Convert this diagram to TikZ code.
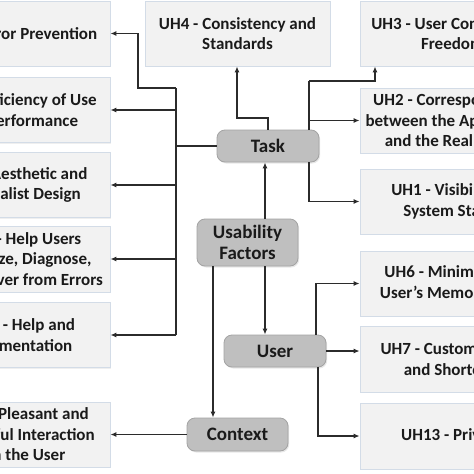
\documentclass[tikz,border=0pt]{standalone}
\usepackage{fontspec}
\setmainfont{Carlito}
\usetikzlibrary{arrows.meta,shadows}
\definecolor{boxfill}{HTML}{F2F2F2}
\definecolor{boxline}{HTML}{D3DCE7}
\definecolor{hubfill}{HTML}{BFBFBF}
\definecolor{hubline}{HTML}{A3A3A3}
\definecolor{conncol}{HTML}{2B2B2B}
\definecolor{txtcol}{HTML}{1A1A1A}
\tikzset{
  uhbox/.style={draw=boxline, line width=0.8pt, fill=boxfill,
    minimum width=185pt, minimum height=65pt, inner sep=0pt,
    align=center, text=txtcol,
    font=\bfseries\fontsize{17}{20.5}\selectfont,
    drop shadow={opacity=0.12, shadow xshift=1pt, shadow yshift=-1pt}},
  hub/.style={draw=hubline, line width=0.8pt, fill=hubfill,
    rounded corners=8pt, inner sep=0pt, align=center, text=txtcol,
    font=\bfseries\fontsize{19}{21.5}\selectfont,
    drop shadow={opacity=0.18, shadow xshift=1.2pt, shadow yshift=-1.5pt}},
  link/.style={draw=conncol, line width=1.2pt},
  arr/.style={link, -{Latex[length=6pt,width=5pt]}}
}
\begin{document}
\begin{tikzpicture}[x=1pt,y=-1pt]
\useasboundingbox (0,0) rectangle (474,474);
\clip (0,0) rectangle (474,474);
\fill[white] (0,0) rectangle (474,474);

% left boxes
\node[uhbox] (uh5)  at (17.5,33.5) {UH5 - Error Prevention};
\node[uhbox] (uh8)  at (17.5,110)  {UH8 - Efficiency of Use\\and Performance};
\node[uhbox] (uh9)  at (17.5,185)  {UH9 - Aesthetic and\\Minimalist Design};
\node[uhbox, minimum height=66pt] (uh10) at (17.5,259) {UH10 - Help Users\\Recognize, Diagnose,\\and Recover from Errors};
\node[uhbox] (uh11) at (17.5,335)  {UH11 - Help and\\Documentation};
\node[uhbox] (uh12) at (17.5,434.5) {UH12 - Pleasant and\\Respectful Interaction\\with the User};

% top and right boxes
\node[uhbox] (uh4)  at (237.5,33.5) {UH4 - Consistency and\\Standards};
\node[uhbox] (uh3)  at (452.5,33.5) {UH3 - User Control and\\Freedom};
\node[uhbox] (uh2)  at (452.5,120.5) {UH2 - Correspondence\\between the Application\\and the Real World};
\node[uhbox] (uh1)  at (452.5,201.5) {UH1 - Visibility of\\System Status};
\node[uhbox] (uh6)  at (452.5,283.5) {UH6 - Minimize the\\User's Memory Load};
\node[uhbox, minimum height=66pt] (uh7)  at (452.5,359) {UH7 - Customization\\and Shortcuts};
\node[uhbox, minimum height=66pt] (uh13) at (452.5,436) {UH13 - Privacy};

% hubs
\node[hub, minimum width=102pt, minimum height=32pt] (task) at (268,146) {Task};
\node[hub, minimum width=101pt, minimum height=47pt] (uf) at (247.5,242.5) {Usability\\Factors};
\node[hub, minimum width=102pt, minimum height=32pt] (user) at (275,351) {User};
\node[hub, minimum width=101pt, minimum height=33pt] (ctx) at (237.5,434.5) {Context};

% bend coordinates
\coordinate (tw) at (176,146);
\coordinate (ttop) at (176,88);
\coordinate (tbot) at (176,335);
\coordinate (b8) at (176,110);
\coordinate (b9) at (176,185);
\coordinate (b10) at (176,259);
\coordinate (r3) at (309,81);
\coordinate (r2) at (309,120.5);
\coordinate (r1) at (309,201.5);
\coordinate (u6) at (316,283.5);
\coordinate (u13) at (318,436);

% Task -> left branch
\draw[link] (task.west) -- (tw);
\draw[link] (ttop) -- (tbot);
\draw[arr] (ttop) -| (138,33.5) -- (uh5.east);
\draw[arr] (b8) -- (b8 -| uh8.east);
\draw[arr] (b9) -- (b9 -| uh9.east);
\draw[arr] (b10) -- (b10 -| uh10.east);
\draw[arr] (tbot) -- (tbot -| uh11.east);

% Task -> UH4
\draw[arr] (task.north) -- (268,118) -| (uh4.south -| 237,0);

% Task -> right branch
\draw[link] (r3 |- task.north) -- (r3);
\draw[link] (r1 |- task.south) -- (r1);
\draw[arr] (r3) -| (uh3.south -| 375,0);
\draw[arr] (r2) -- (r2 -| uh2.west);
\draw[arr] (r1) -- (r1 -| uh1.west);

% Usability Factors links
\draw[arr] (uf.north -| 265,0) -- (task.south -| 265,0);
\draw[arr] (uf.south -| 265,0) -- (user.north -| 265,0);
\draw[arr] (uf.south -| 213,0) -- (ctx.north -| 213,0);

% Context -> UH12
\draw[arr] (ctx.west) -- (ctx.west -| uh12.east);

% User -> right
\draw[arr] (user.north -| u6) -- (u6) -- (u6 -| uh6.west);
\draw[arr] (user.east) -- (user.east -| uh7.west);
\draw[arr] (user.south -| u13) -- (u13) -- (u13 -| uh13.west);
\end{tikzpicture}
\end{document}
